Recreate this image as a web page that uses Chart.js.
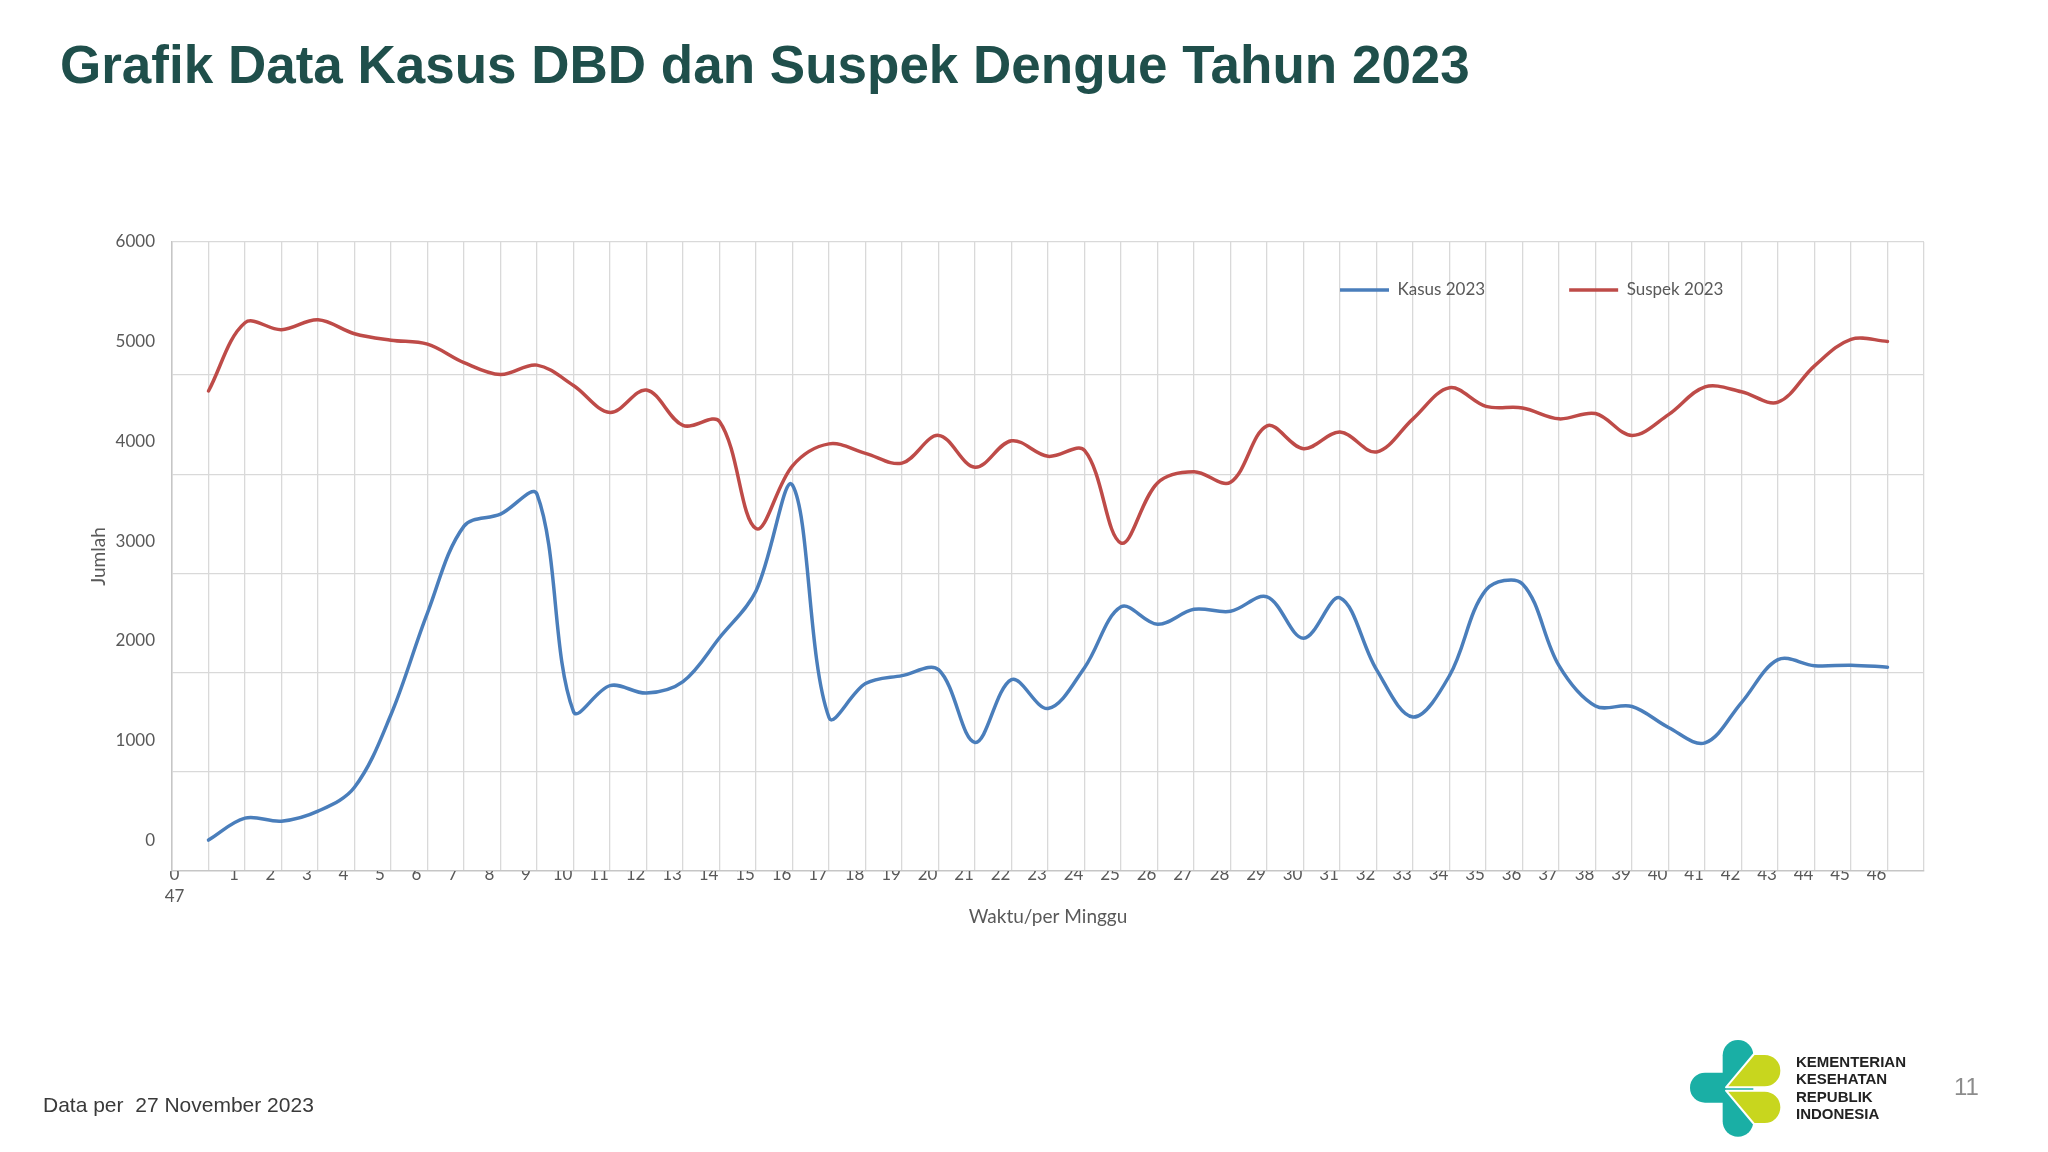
<!DOCTYPE html>
<html>
<head>
<meta charset="utf-8">
<script src="https://cdn.jsdelivr.net/npm/chart.js@4.4.1/dist/chart.umd.min.js"></script>
<style>
  html, body { margin: 0; padding: 0; background: #ffffff; }
  #page { position: relative; width: 2048px; height: 1152px; overflow: hidden; background: #ffffff; }
  #chart { position: absolute; left: 0; top: 0; width: 2048px; height: 1152px; }
  .title { position: absolute; left: 60px; top: 38px; margin: 0; white-space: nowrap;
           font: bold 53px/53px "Liberation Sans", Arial, sans-serif; color: #1f4f4b; }
  .footer { position: absolute; left: 43px; top: 1094px; white-space: pre;
            font: 21px/21px "Liberation Sans", Arial, sans-serif; color: #3a3a3a; }
  .pagenum { position: absolute; left: 1954px; top: 1075px;
             font: 24px/24px "Liberation Sans", Arial, sans-serif; color: #8c8c8c; }
  .logo { position: absolute; left: 1680px; top: 1030px; width: 240px; height: 115px; }
  .logotext { position: absolute; left: 1796px; top: 1053px; white-space: pre;
              font: bold 15px/17.3px "Liberation Sans", Arial, sans-serif; color: #222222; }
</style>
</head>
<body>
<div id="page">
  <canvas id="chart" width="2048" height="1152"></canvas>
  <h1 class="title">Grafik Data Kasus DBD dan Suspek Dengue Tahun 2023</h1>
  <div class="footer">Data per  27 November 2023</div>
  <div class="pagenum">11</div>
  <svg class="logo" viewBox="0 0 720 345" xmlns="http://www.w3.org/2000/svg">
    <rect x="128" y="30" width="92" height="290" rx="46" ry="46" fill="#1aafa5"/>
    <path d="M135,128 H75 A45,45 0 0 0 75,218 H135 Z" fill="#1aafa5"/>
    <path d="M138,172 L222,72 L254,72 A50,50 0 0 1 254,172 Z" fill="#c8d61e" stroke="#ffffff" stroke-width="6" stroke-linejoin="round"/>
    <path d="M138,182 L222,282 L254,282 A50,50 0 0 0 254,182 Z" fill="#c8d61e" stroke="#ffffff" stroke-width="6" stroke-linejoin="round"/>
  </svg>
  <div class="logotext">KEMENTERIAN
KESEHATAN
REPUBLIK
INDONESIA</div>
</div>
<script>
// ---------------- data ----------------
const weeks = [1, 2, 3, 4, 5, 6, 7, 8, 9, 10, 11, 12, 13, 14, 15, 16, 17, 18, 19, 20, 21, 22, 23, 24,
               25, 26, 27, 28, 29, 30, 31, 32, 33, 34, 35, 36, 37, 38, 39, 40, 41, 42, 43, 44, 45, 46, 47];
const kasus2023 = [0, 220, 190, 290, 530, 1260, 2280, 3150, 3270, 3470, 1290, 1550, 1475, 1590, 2030, 2500,
                   3560, 1230, 1570, 1650, 1710, 980, 1610, 1320, 1730, 2340, 2165, 2315, 2295, 2440, 2025, 2430,
                   1710, 1235, 1650, 2510, 2570, 1750, 1345, 1340, 1130, 975, 1380, 1810, 1750, 1755, 1735];
const suspek2023 = [4505, 5190, 5120, 5220, 5080, 5015, 4975, 4790, 4670, 4765, 4560, 4290, 4515, 4160, 4200, 3125,
                    3755, 3975, 3880, 3782, 4060, 3740, 4006, 3850, 3910, 2980, 3583, 3695, 3590, 4156, 3927, 4093,
                    3894, 4226, 4538, 4351, 4335, 4226, 4279, 4060, 4268, 4547, 4497, 4393, 4758, 5024, 5003];
const seriesNames = ['Kasus 2023', 'Suspek 2023'];
const yTickValues = [0, 1000, 2000, 3000, 4000, 5000, 6000];
const yGridValues = [-310, 682, 1676, 2673, 3671, 4669, 6000];
const xTickLabels = [['0', '47'], '1', '2', '3', '4', '5', '6', '7', '8', '9', '10', '11', '12', '13', '14', '15',
                     '16', '17', '18', '19', '20', '21', '22', '23', '24', '25', '26', '27', '28', '29', '30',
                     '31', '32', '33', '34', '35', '36', '37', '38', '39', '40', '41', '42', '43', '44', '45', '46'];
const xAxisTitle = 'Waktu/per Minggu';
const yAxisTitle = 'Jumlah';

// ---------------- layout / style ----------------
const PAD_LEFT = 60;
const PLOT_LEFT = 172;
const LABEL_SHIFT = 0.70;
const LEG_PAD = 84;
const GRID = '#d9d9d9';
const AXIS = '#c6c6c6';
const TEXT = '#595959';

const legendPlacer = {
  id: 'legendPlacer',
  afterLayout(chart) {
    const lg = chart.legend;
    if (!lg) return;
    lg.left = 1340 - LEG_PAD; lg.width = 640; lg.right = lg.left + lg.width;
    lg.top = 281.5 - LEG_PAD; lg.height = 200; lg.bottom = lg.top + lg.height;
  }
};

function build() {
  const ctx = document.getElementById('chart').getContext('2d');
  new Chart(ctx, {
    type: 'line',
    data: {
      datasets: [
        { label: seriesNames[0], data: weeks.map((w, i) => ({ x: w, y: kasus2023[i] })),
          borderColor: '#4a7ebb', backgroundColor: '#4a7ebb', borderWidth: 3.5,
          pointRadius: 0, tension: 0.35, fill: false, xAxisID: 'x', yAxisID: 'y',
          borderJoinStyle: 'round', borderCapStyle: 'round' },
        { label: seriesNames[1], data: weeks.map((w, i) => ({ x: w, y: suspek2023[i] })),
          borderColor: '#be4b48', backgroundColor: '#be4b48', borderWidth: 3.5,
          pointRadius: 0, tension: 0.35, fill: false, xAxisID: 'x', yAxisID: 'y',
          borderJoinStyle: 'round', borderCapStyle: 'round' }
      ]
    },
    options: {
      responsive: false,
      animation: false,
      devicePixelRatio: 1,
      layout: { padding: { left: PAD_LEFT, top: 241, right: 124, bottom: 224 } },
      plugins: {
        tooltip: { enabled: false },
        legend: {
          display: true, position: 'top', align: 'start', maxHeight: 1,
          labels: { usePointStyle: true, pointStyle: 'line', pointStyleWidth: 49, boxHeight: 17,
                    padding: LEG_PAD, color: TEXT, font: { family: 'Lato', size: 17 } }
        }
      },
      scales: {
        x: {
          type: 'linear', position: 'bottom', weight: 0, min: 0, max: 48,
          afterBuildTicks: s => { s.ticks = Array.from({ length: 49 }, (_, i) => ({ value: i })); },
          ticks: { display: false },
          grid: { color: c => c.index === 0 ? 'rgba(0,0,0,0)' : GRID, lineWidth: 1.3, drawTicks: false },
          border: { display: true, color: AXIS, width: 1.6 }
        },
        xl: {
          type: 'linear', position: 'bottom', weight: 1, min: 0, max: 48,
          afterBuildTicks: s => { s.ticks = xTickLabels.map((_, i) => ({ value: i === 0 ? 0.07 : i + LABEL_SHIFT })); },
          afterFit: s => { s.height = 57; },
          grid: { display: false },
          border: { display: false },
          ticks: { autoSkip: false, maxRotation: 0, minRotation: 0, padding: -16, color: TEXT,
                   font: { family: 'Lato', size: 17, lineHeight: 1.3 },
                   callback: (v, i) => xTickLabels[i] },
          title: { display: true, text: xAxisTitle, color: TEXT, font: { family: 'Lato', size: 19 },
                   padding: { top: 0, bottom: 0 } }
        },
        y: {
          type: 'linear', position: 'left', weight: 0, min: -310, max: 6000,
          afterBuildTicks: s => { s.ticks = yGridValues.map(v => ({ value: v })); },
          ticks: { display: false },
          grid: { color: c => c.index === 0 ? 'rgba(0,0,0,0)' : GRID, lineWidth: 1.3, drawTicks: false },
          border: { display: true, color: AXIS, width: 1.6 }
        },
        yl: {
          type: 'linear', position: 'left', weight: 1, min: -310, max: 6000,
          afterBuildTicks: s => { s.ticks = yTickValues.map(v => ({ value: v })); },
          afterFit: s => { s.width = PLOT_LEFT - PAD_LEFT; },
          grid: { display: false },
          border: { display: false },
          ticks: { padding: 9, color: TEXT, font: { family: 'Lato', size: 17 },
                   callback: v => String(v) },
          title: { display: true, text: yAxisTitle, color: TEXT, font: { family: 'Lato', size: 19 },
                   padding: { top: 27, bottom: 0 } }
        }
      }
    },
    plugins: [legendPlacer]
  });
}

const fontLoads = ['17px Lato', '19px Lato'].map(f => document.fonts.load(f).catch(() => null));
Promise.all(fontLoads).then(build, build);
</script>
</body>
</html>
